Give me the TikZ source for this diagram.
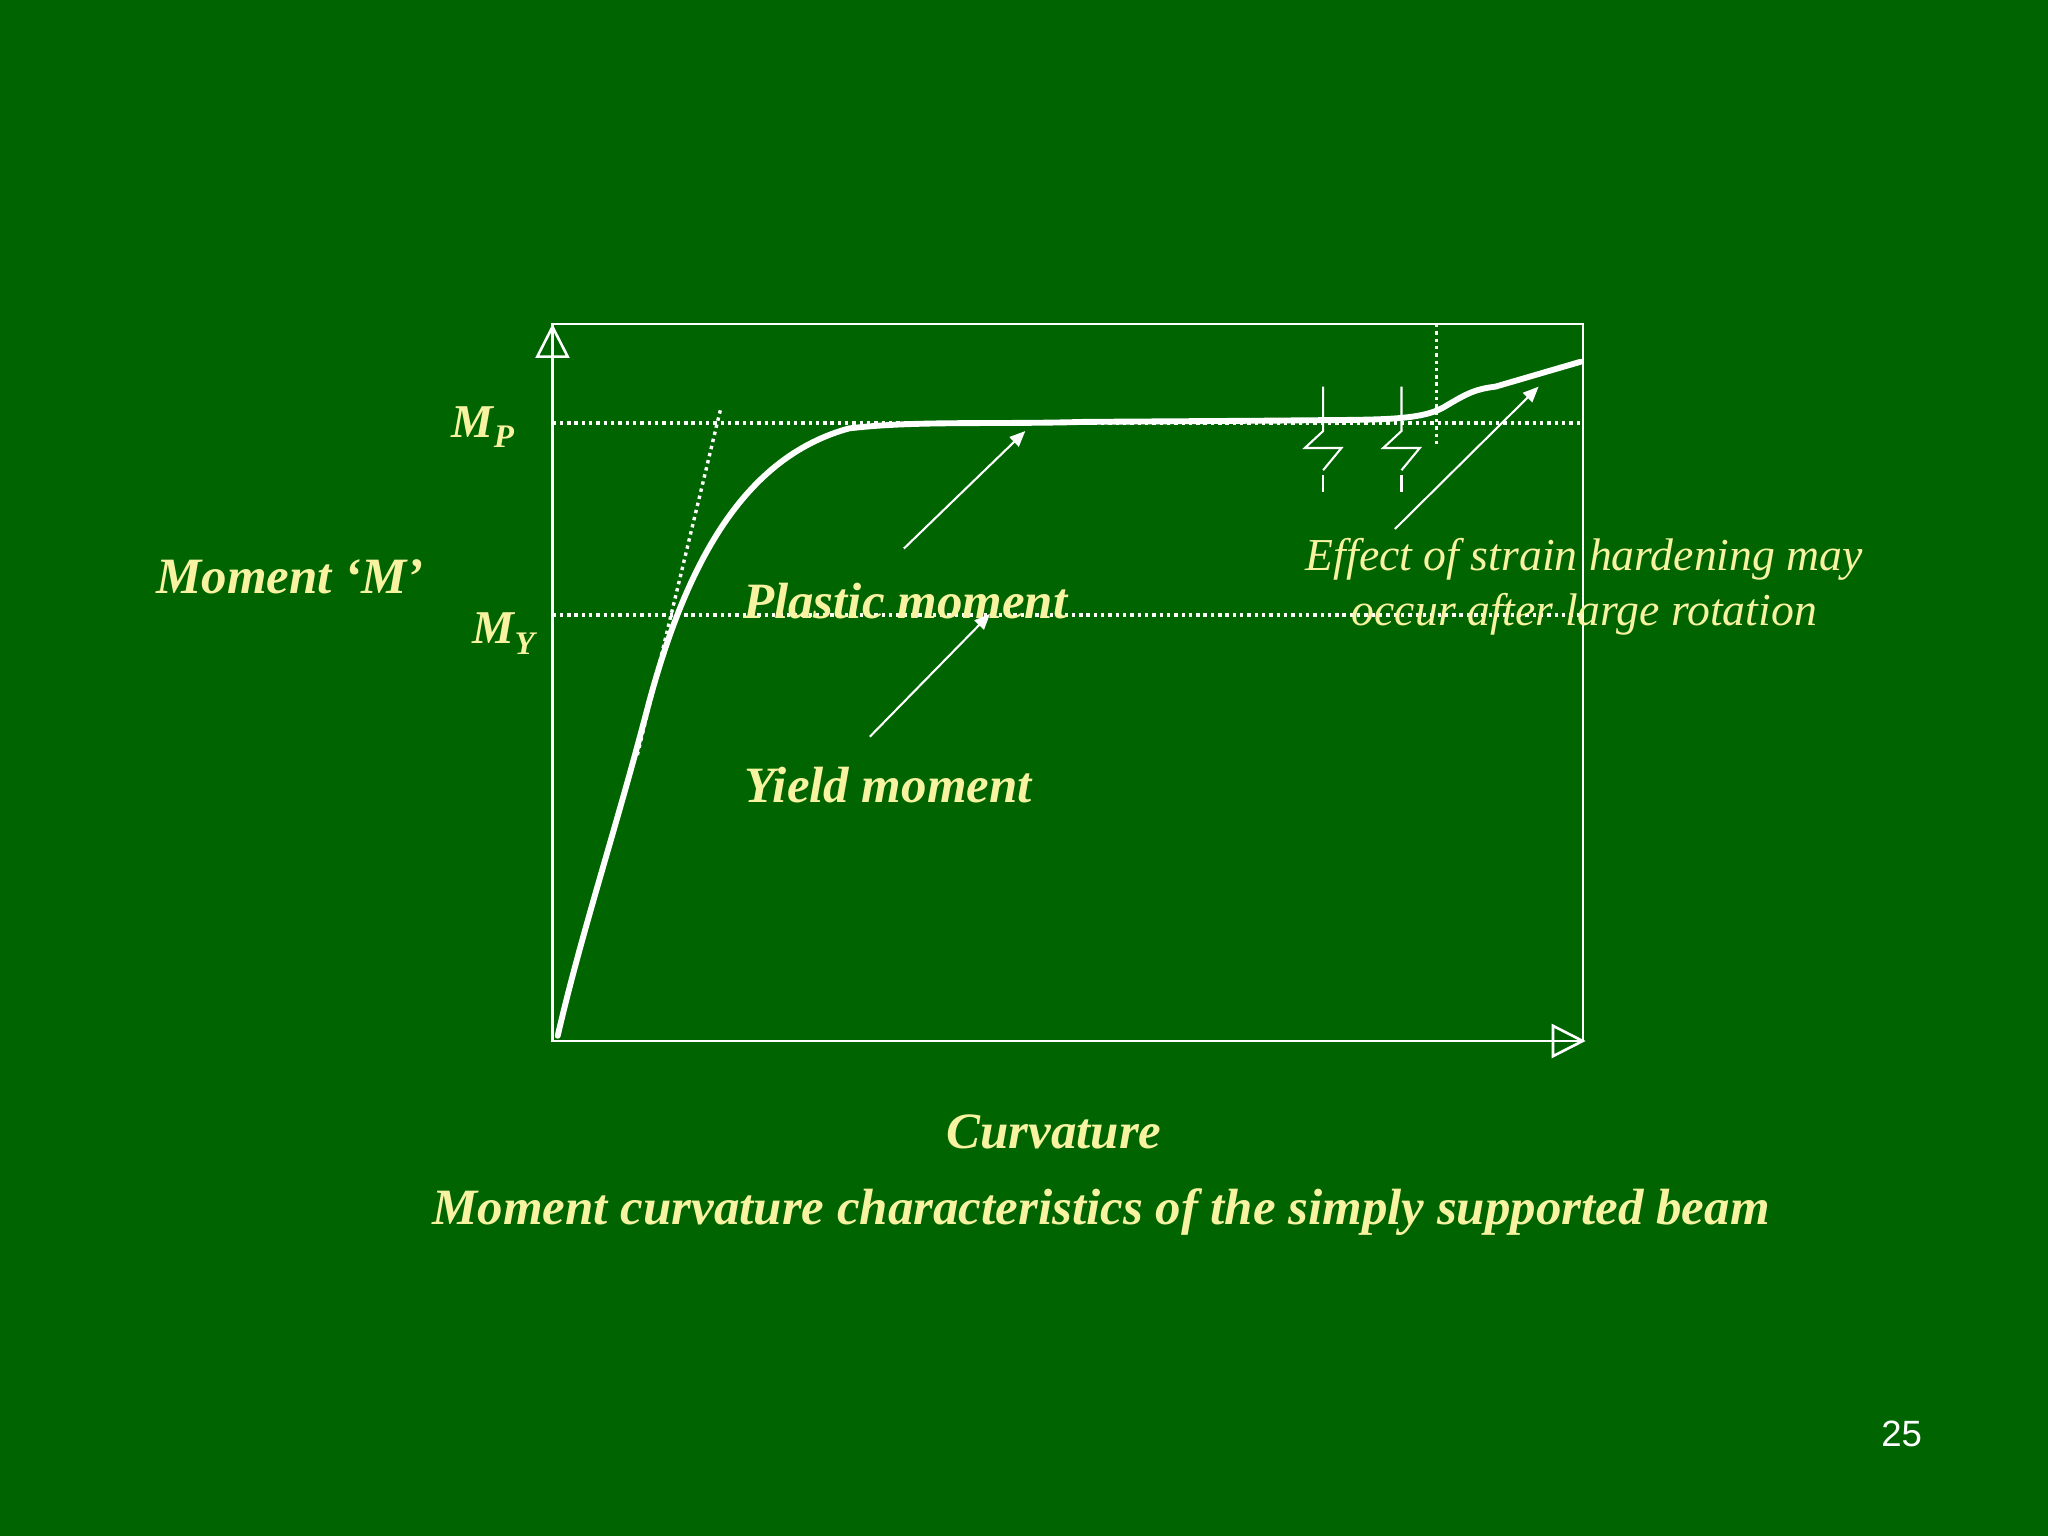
\documentclass[tikz,border=0pt]{standalone}
\usepackage{fontspec}
\setmainfont{Liberation Serif}
\newfontfamily\sansf{Liberation Sans}
\usetikzlibrary{arrows.meta}
\definecolor{bg}{HTML}{006400}
\definecolor{tx}{HTML}{F7F3A0}
\tikzset{
 dot/.style={white,line width=2.6pt,dash pattern=on 2.6pt off 3pt},
 lbl/.style={tx,font=\fontsize{39}{44}\selectfont\bfseries\itshape},
 thin/.style={white,line width=1.6pt},
 pt/.style={thin,-{Triangle[length=12pt,width=10pt]}},
 ax/.style={white,line width=2pt,-{Triangle[open,length=26pt,width=26pt,line width=2pt]}}
}
\begin{document}
\begin{tikzpicture}[x=1pt,y=-1pt]
\fill[bg] (0,0) rectangle (1568,1176);
\draw[thin] (423,248) rectangle (1212,797);
\draw[dot] (423,324) -- (1212,324);
\draw[dot] (423,471) -- (1210,471);
\draw[dot] (488,578) -- (552,312);
\draw[dot] (1100,248) -- (1100,340);
\coordinate (o) at (423,797);
\coordinate (ytop) at (423,248);
\coordinate (xend) at (1214,797);
\draw[ax] (o) -- (ytop);
\draw[ax] (o) -- (xend);
\draw[white,line width=4.5pt,line cap=round] (427,793) .. controls (445,715) and (470,640) .. (495,545)
 .. controls (525,430) and (570,350) .. (650,328) .. controls (700,322) and (760,325) .. (830,323)
 -- (980,322) .. controls (1050,321) and (1085,323) .. (1105,312)
 .. controls (1125,300) and (1130,298) .. (1145,296) -- (1210,277);
\foreach \x in {1013,1073}{
 \draw[thin] (\x,296) -- (\x,322) -- (\x,330) -- (\x-14,343) -- (\x+14,343) -- (\x,360);
 \draw[thin] (\x,364) -- (\x,377);
}
\node[lbl,font=\fontsize{36}{40}\selectfont\bfseries\itshape] (mp) at (370,327) {M\textsubscript{P}};
\node[lbl,font=\fontsize{36}{40}\selectfont\bfseries\itshape] (my) at (386,485) {M\textsubscript{Y}};
\node[lbl] (m) at (222,442) {Moment ‘M’};
\node[lbl] (pm) at (693,460) {Plastic moment};
\node[lbl] (ym) at (680,601) {Yield moment};
\node[lbl] (cv) at (807,867) {Curvature};
\node[lbl] (cap) at (843,928) {Moment curvature characteristics of the simply supported beam};
\node[tx,font=\fontsize{35}{42}\selectfont\itshape,align=center] (eff) at (1213,449) {Effect of strain hardening may\\occur after large rotation};
\node[font=\sansf\fontsize{28}{30}\selectfont,white] (pg) at (1456,1098) {25};
\coordinate (a1) at (692,420); \coordinate (b1) at (785,330);
\coordinate (a2) at (666,564); \coordinate (b2) at (758,470);
\coordinate (a3) at (1068,405); \coordinate (b3) at (1178,296);
\draw[pt] (a1) -- (b1);
\draw[pt] (a2) -- (b2);
\draw[pt] (a3) -- (b3);
\end{tikzpicture}
\end{document}
